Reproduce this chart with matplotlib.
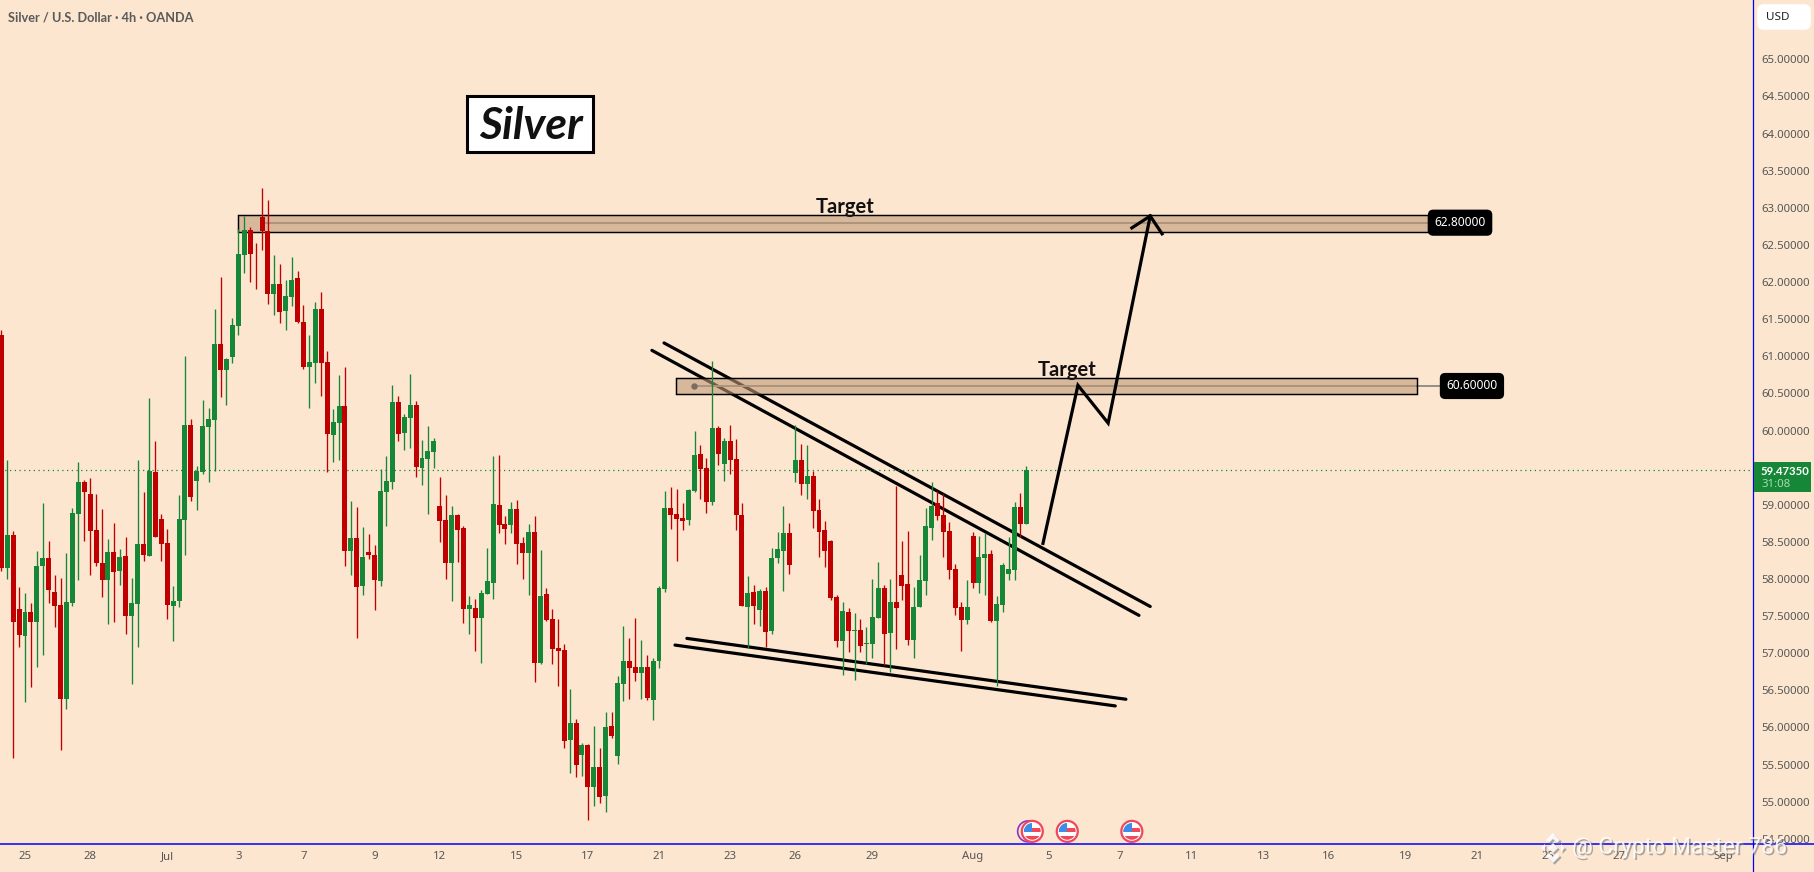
import matplotlib
matplotlib.use('Agg')
import matplotlib.pyplot as plt
import matplotlib.patheffects as pe
from matplotlib.lines import Line2D
from matplotlib.patches import Rectangle, FancyBboxPatch, Ellipse, Polygon
import numpy as np

# 4h candles
opens = [61.29,58.15,58.59,57.60,57.23,57.56,57.42,58.17,58.28,57.82,
         57.65,56.39,57.67,58.88,59.31,59.14,58.66,58.21,57.99,58.36,
         58.11,58.31,57.50,57.66,58.47,58.31,59.44,58.81,58.48,57.64,
         57.70,58.79,60.08,59.32,59.44,60.05,60.14,61.16,60.81,60.99,
         61.41,62.37,62.70,62.41,62.87,62.69,61.84,61.97,61.61,61.80,
         62.06,61.46,60.85,60.91,61.64,60.92,59.94,60.10,60.33,58.38,
         58.55,57.90,58.36,58.32,57.97,59.17,59.31,60.38,59.97,60.17,
         60.34,59.49,59.62,59.71,58.98,58.79,58.21,58.86,58.69,57.59,
         57.61,57.47,57.80,57.95,59.00,58.74,58.73,58.94,58.48,58.35,
         58.63,56.87,57.80,57.46,57.07,57.04,55.83,56.06,55.63,55.76,
         55.20,55.47,55.07,56.02,55.61,56.58,56.89,56.81,56.73,56.81,
         56.37,56.89,57.86,58.96,58.88,58.82,58.79,59.19,59.68,59.49,
         59.04,60.03,59.55,59.86,59.62,58.86,57.62,57.82,57.58,57.84,
         57.30,58.28,58.38,58.62,59.43,59.60,59.28,59.39,58.93,58.66,
         58.51,57.76,57.16,57.55,57.30,57.31,57.12,57.12,57.47,57.88,
         57.27,57.69,58.05,57.93,57.18,57.62,57.97,58.69,59.02,58.86,
         58.65,58.13,57.62,57.45,58.58,57.95,58.28,58.34,57.43,57.65,
         58.07,58.12,58.97,58.74]
highs = [61.36,59.60,58.65,57.89,57.81,57.68,58.38,59.02,58.51,58.06,
         58.02,58.35,58.96,59.58,59.34,59.36,59.15,58.94,58.54,58.75,
         58.41,58.56,58.01,59.60,59.17,60.44,59.86,58.87,58.68,57.90,
         59.13,61.00,60.15,59.52,60.41,60.30,61.64,62.07,60.98,61.52,
         62.71,62.89,62.74,62.52,63.27,63.11,62.37,62.24,62.03,62.34,
         62.15,61.69,61.29,61.73,61.86,61.07,60.29,60.75,60.85,59.05,
         58.97,58.70,58.60,58.46,59.48,59.66,60.61,60.46,60.22,60.76,
         60.40,59.87,60.06,59.90,59.37,59.13,58.98,58.87,58.71,57.77,
         57.73,57.85,58.42,59.66,59.67,58.85,59.04,59.06,58.56,58.74,
         58.85,58.39,57.88,57.59,57.46,57.12,56.52,56.11,55.79,55.78,
         56.02,55.73,56.21,56.21,56.69,57.37,57.20,57.47,57.18,56.97,
         56.93,57.90,59.19,59.24,59.21,59.02,59.21,59.99,59.80,59.63,
         60.94,60.06,59.90,60.07,59.89,59.02,58.04,57.92,57.86,57.89,
         58.42,58.63,58.98,58.75,60.08,59.82,59.80,59.46,59.08,58.78,
         58.52,57.78,57.69,57.61,57.54,57.46,57.35,58.00,58.23,57.92,
         58.00,59.25,58.51,58.65,57.89,58.32,58.96,59.31,59.19,59.14,
         58.77,58.20,57.69,57.99,58.63,58.58,58.62,58.39,57.77,58.21,
         58.57,59.04,59.16,59.52]
lows = [58.11,58.00,55.59,57.08,56.34,56.55,56.81,56.98,57.67,57.35,
        55.70,56.25,57.64,57.99,58.51,58.06,58.17,57.76,57.40,57.42,
        57.92,57.26,56.59,57.08,58.24,58.31,58.56,58.24,57.46,57.16,
        57.62,58.32,59.05,58.93,59.42,59.31,59.46,60.45,60.35,60.91,
        61.29,62.12,62.00,61.91,62.43,61.71,61.56,61.45,61.36,61.68,
        61.45,60.83,60.30,60.64,60.46,59.44,59.58,59.60,58.17,58.05,
        57.20,57.78,58.27,57.58,57.90,58.71,59.21,59.86,59.74,59.76,
        59.37,59.27,58.87,59.49,58.50,58.00,57.70,58.23,57.41,57.26,
        57.03,56.87,57.80,57.73,58.62,58.47,58.62,58.20,58.00,57.78,
        56.61,56.85,57.43,56.85,56.56,55.73,55.38,55.33,55.34,54.76,
        54.94,54.98,54.86,55.86,55.51,56.35,56.38,56.62,56.38,56.37,
        56.10,56.80,57.82,58.67,58.24,58.66,58.73,59.17,59.08,58.89,
        59.00,59.54,59.32,59.41,58.66,57.64,57.07,57.39,57.37,57.08,
        57.26,58.21,57.84,58.07,59.31,59.13,59.08,58.69,58.30,58.16,
        57.72,57.08,56.71,57.02,56.64,57.02,56.85,56.93,57.47,56.84,
        56.75,57.06,57.72,57.11,56.93,57.62,57.78,58.52,58.79,58.30,
        58.00,57.51,57.03,57.39,57.88,57.81,57.78,57.42,56.56,57.55,
        57.99,57.99,58.57,58.74]
closes = [58.15,58.59,57.42,57.25,57.56,57.42,58.17,58.28,57.85,57.64,
          56.39,57.69,58.89,59.31,59.17,58.65,58.21,57.99,58.36,58.09,
          58.30,57.50,57.67,58.47,58.32,59.45,58.56,58.47,57.65,57.71,
          58.81,60.08,59.10,59.45,60.06,60.15,61.16,60.81,60.96,61.42,
          62.38,62.70,62.38,62.40,62.69,61.84,61.97,61.60,61.81,62.03,
          61.46,60.85,60.92,61.64,60.91,59.95,60.11,60.33,58.38,58.55,
          57.89,58.30,58.32,57.99,59.18,59.32,60.38,59.95,60.18,60.34,
          59.51,59.63,59.72,59.86,58.78,58.21,58.86,58.66,57.59,57.65,
          57.47,57.81,57.97,59.01,58.73,58.67,58.94,58.47,58.35,58.63,
          56.87,57.77,57.45,57.06,57.03,55.82,56.06,55.49,55.76,55.20,
          55.47,55.06,56.00,55.88,56.60,56.89,56.80,56.73,56.81,56.40,
          56.89,57.88,58.96,58.86,58.81,58.78,59.20,59.67,59.48,59.04,
          60.03,59.68,59.86,59.60,58.86,57.64,57.81,57.64,57.84,57.29,
          58.28,58.40,58.62,58.19,59.60,59.28,59.39,58.92,58.63,58.38,
          57.74,57.16,57.57,57.30,57.31,57.10,57.14,57.49,57.88,57.26,
          57.69,57.61,57.90,57.18,57.62,57.99,58.71,58.98,58.85,58.63,
          58.12,57.61,57.45,57.62,57.95,58.30,58.34,57.43,57.66,58.19,
          58.13,58.97,58.74,59.47]
last_price = 59.4735

# time axis labels, position given in bars
tick_bars = [4, 15, 28, 40, 51, 63, 74, 87, 99, 111, 123, 134, 147, 164,
             176.8, 188.8, 200.8, 213, 224, 237, 249, 261, 273, 290.6]
tick_labels = ['25', '28', 'Jul', '3', '7', '9', '12', '15', '17', '21', '23', '26', '29', 'Aug',
               '5', '7', '11', '13', '16', '19', '21', '25', '27', 'Sep']
# 59.5 sits behind the last price tag
price_ticks = [54.5, 55.0, 55.5, 56.0, 56.5, 57.0, 57.5, 58.0, 58.5, 59.0, 60.0,
               60.5, 61.0, 61.5, 62.0, 62.5, 63.0, 63.5, 64.0, 64.5, 65.0]

# drawings: (bar, price)
upper_a = [(111.85, 61.18), (193.9, 57.63)]
upper_b = [(109.8, 61.08), (192.0, 57.51)]
lower_a = [(115.7, 57.20), (189.8, 56.38)]
lower_b = [(113.7, 57.11), (188.0, 56.29)]
arrow_path = [(175.8, 58.48), (181.7, 60.61), (186.8, 60.10), (193.9, 62.89)]
arrow_head = [(190.8, 62.73), (193.9, 62.89), (195.9, 62.65)]
event_bars = [174.0, 179.9, 190.8]

W, H = 1815, 872
BG = '#FCE6CF'
GREEN = '#158736'
RED = '#C00000'
BLUE = '#0000FF'
plt.rcParams['font.family'] = 'Noto Sans'

fig = plt.figure(figsize=(W / 100, H / 100), dpi=100, facecolor=BG)
ax = fig.add_axes([0, 1 - 844 / H, 1754 / W, 844 / H], facecolor=BG)
ax.set_xlim(-0.22, 295.8)
ax.set_ylim(54.43, 65.80)
for s in ax.spines.values():
    s.set_visible(False)


def fx(px):
    return px / W


def fy(py):
    return 1 - py / H


# candles
bars = np.arange(len(opens))
o = np.array(opens)
c = np.array(closes)
colors = [GREEN if c[i] >= o[i] else RED for i in bars]
ax.vlines(bars, lows, highs, colors=colors, linewidth=0.95, zorder=3)
ax.bar(bars, np.abs(c - o), bottom=np.minimum(o, c), width=0.84, color=colors, linewidth=0, zorder=3.1)

# last price line
ax.axhline(last_price, color=GREEN, lw=0.9, linestyle=(0, (1, 2.8)), zorder=2.5)

# trend lines, under the zones
for line in [upper_a, upper_b, lower_a, lower_b]:
    xs, ys = zip(*line)
    ax.plot(xs, ys, color='black', lw=2.3, solid_capstyle='round', zorder=1)

# target zones
zones = [(40.0, 240.8, 62.67, 62.90, 62.80, 44.5), (113.9, 238.9, 60.49, 60.71, 60.60, 116.9)]
for x0, x1, low, high, mid, mid_start in zones:
    ax.add_patch(Rectangle((x0, low), x1 - x0, high - low, facecolor='#C09A78', alpha=0.6, edgecolor='none', zorder=2))
    ax.add_patch(Rectangle((x0, low), x1 - x0, high - low, facecolor='none', edgecolor='black', lw=1.05, zorder=2.2))
    ax.plot([mid_start, x1], [mid, mid], color='#AD937B', lw=1.4, zorder=2.1)
ax.plot([116.9], [60.60], 'o', color='#7A6C60', ms=3.6, zorder=2.3)
ax.plot([238.9, 243], [60.60, 60.60], color='#777777', lw=1.1, zorder=2.1)

# arrow
xs, ys = zip(*arrow_path)
ax.plot(xs, ys, color='black', lw=2.3, solid_joinstyle='miter', zorder=4)
xs, ys = zip(*arrow_head)
ax.plot(xs, ys, color='black', lw=2.3, solid_joinstyle='miter', zorder=4)

# price labels on zones
for bar, price, txt in [(246.2, 62.80, '62.80000'), (248.2, 60.60, '60.60000')]:
    ax.text(bar, price, txt, color='white', fontsize=8.6, ha='center', va='center', zorder=5,
            bbox=dict(boxstyle='round,pad=0.55,rounding_size=0.45', fc='black', ec='none'))

ax.text(142.4, 63.01, 'Target', family='Lato', fontsize=14.5, fontweight='bold', ha='center', va='center', color='#111111', zorder=5)
ax.text(179.8, 60.82, 'Target', family='Lato', fontsize=14.5, fontweight='bold', ha='center', va='center', color='#111111', zorder=5)

# axis labels
ax.set_xticks(tick_bars)
ax.set_xticklabels(tick_labels)
ax.set_yticks(price_ticks)
ax.set_yticklabels([f'{p:.5f}' for p in price_ticks])
ax.yaxis.tick_right()
ax.tick_params(axis='both', length=0, labelsize=8.2, labelcolor='#565656')
ax.tick_params(axis='y', pad=5)
ax.tick_params(axis='x', pad=5)

# us calendar flags
event_price = 54.60
rx = 10.5 / 5.925
ry = 10.5 / 74.2
ax.add_patch(Ellipse((event_bars[0] - 0.7, event_price), 2 * rx, 2 * ry, fc=BG, ec='#8A35C9', lw=1.2, zorder=5, clip_on=False))
for b in event_bars:
    disc = Ellipse((b, event_price), 2 * rx, 2 * ry, fc='white', ec='#F0485A', lw=1.6, zorder=5.1, clip_on=False)
    ax.add_patch(disc)
    stripes = [Rectangle((b - rx, event_price - ry * 0.05), 2 * rx, ry * 0.4, fc='#F0485A', ec='none', zorder=5.2),
               Rectangle((b - rx, event_price - ry), 2 * rx, ry * 0.55, fc='#F0485A', ec='none', zorder=5.2),
               Rectangle((b - rx, event_price - ry * 0.05), rx, ry, fc='#3C8DE8', ec='none', zorder=5.3)]
    for r in stripes:
        ax.add_patch(r)
        r.set_clip_path(Ellipse((b, event_price), 1.6 * rx, 1.6 * ry, transform=ax.transData))

# frame lines run to the edge of the picture
fig.add_artist(Line2D([fx(1753.5), fx(1753.5)], [0, 1], color=BLUE, lw=0.9))
fig.add_artist(Line2D([0, 1], [fy(844), fy(844)], color=BLUE, lw=1.1))

# header
fig.text(fx(8), fy(17), 'Silver / U.S. Dollar · 4h · OANDA', family='Lato', fontsize=9.2, fontweight='bold', color='#5A5A5A', va='center')

# USD button
fig.add_artist(FancyBboxPatch((fx(1760), fy(27)), fx(48), 20 / H, boxstyle='round,pad=0,rounding_size=0.002',
                              fc='white', ec='white', lw=4, transform=fig.transFigure, mutation_aspect=2))
fig.text(fx(1766), fy(17.5), 'USD', fontsize=8.4, color='#222222', va='center', zorder=10)

# last price tag
fig.add_artist(Rectangle((fx(1754), fy(492)), fx(57), 30 / H, fc=GREEN, ec='none', transform=fig.transFigure, zorder=8))
fig.text(fx(1761), fy(471), '59.47350', family='Lato', fontsize=8.2, fontweight='bold', color='white', va='center', zorder=9)
fig.text(fx(1761), fy(484), '31:08', fontsize=8.2, color='#A8DAB6', va='center', zorder=9)

# title box
fig.add_artist(Rectangle((fx(467.5), fy(152.5)), fx(125), 56 / H, fc='white', ec='black', lw=2.2, transform=fig.transFigure, zorder=8))
fig.text(fx(531), fy(126), 'Silver', family='Lato', fontsize=32, fontweight='bold', style='italic', color='#111111',
         ha='center', va='center', zorder=9)

# watermark
shadow = [pe.withSimplePatchShadow(offset=(1.2, -1.2), shadow_rgbFace='#777777', alpha=0.6)]
fig.text(fx(1572), fy(847), '@ Crypto Master 786', family='Roboto', fontsize=16.5, color='white', alpha=0.85, va='center', zorder=12,
         path_effects=shadow)
cx, cy = 1553, 848
logo = [[(0, -5), (5, 0), (0, 5), (-5, 0)], [(-12, 0), (-8, -4), (-8, 4)], [(12, 0), (8, -4), (8, 4)],
        [(-7, -8), (0, -15), (7, -8), (4, -5), (0, -9), (-4, -5)], [(-7, 8), (0, 15), (7, 8), (4, 5), (0, 9), (-4, 5)]]
for shape in logo:
    pts = [(fx(cx + dx), fy(cy + dy)) for dx, dy in shape]
    fig.add_artist(Polygon(pts, closed=True, fc='white', ec='none', alpha=0.9, transform=fig.transFigure, zorder=12,
                           path_effects=shadow))

fig.savefig('out.png', dpi=100, facecolor=BG)
